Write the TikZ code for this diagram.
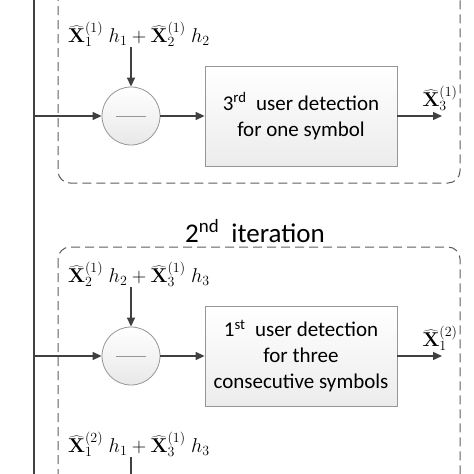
\documentclass[tikz,border=0pt]{standalone}
\usepackage{fix-cm}
\usepackage[no-math]{fontspec}
\setmainfont{Carlito}
\usetikzlibrary{positioning,arrows.meta,calc}
\definecolor{lnGrey}{RGB}{64,64,64}
\definecolor{rimGrey}{RGB}{150,150,150}
\tikzset{
  conn/.style={draw=lnGrey,line width=1.4pt,-{Triangle[length=9pt,width=8pt]}},
  busline/.style={draw=lnGrey,line width=1.5pt},
  subnode/.style={circle,draw=rimGrey,line width=0.8pt,minimum size=58pt,inner sep=0pt,
    top color=white,bottom color=gray!18},
  minusline/.style={draw=rimGrey,line width=1pt},
  detbox/.style={draw=rimGrey,line width=0.8pt,minimum width=192pt,minimum height=100pt,
    align=center,top color=white,bottom color=gray!15,font=\fontsize{21}{26}\selectfont},
  iterframe/.style={draw=lnGrey!85,line width=1pt,dash pattern=on 9pt off 5pt,rounded corners=12pt},
  lbl/.style={inner sep=0pt,font=\fontsize{20}{24}\selectfont},
}
\newcommand{\xh}[2]{\widehat{\mathbf{X}}_{#1}^{(#2)}}

\begin{document}
\begin{tikzpicture}[x=1pt,y=-1pt]
  \useasboundingbox (0,0) rectangle (474,474);
  % dashed iteration frames
  \draw[iterframe] (58,-20) rectangle (460,183);
  \draw[iterframe] (58,247) rectangle (460,500);
  \node[font=\fontsize{27}{30}\selectfont] (iter2) at (255,231) {2\textsuperscript{nd}~ iteration};
  % received signal bus
  \coordinate (bustop) at (34,0);
  \coordinate (busbot) at (34,474);
  \draw[busline] (bustop) -- (busbot);
  % first stage
  \node[subnode] (sub1) at (131,116) {};
  \draw[minusline] (sub1.center) ++(-15,0) -- ++(30,0);
  \node[detbox] (det1) at (301,116) {3\textsuperscript{rd}~ user detection\\for one symbol};
  \node[lbl] (in1) at (139,34) {$\xh{1}{1}\;h_1+\xh{2}{1}\;h_2$};
  \coordinate (tap1) at (34,116);
  \coordinate (out1) at (442,116);
  \node[lbl] (xout1) at (440,98) {$\xh{3}{1}$};
  \draw[conn] (in1.south -| sub1) -- (sub1);
  \draw[conn] (tap1) -- (sub1);
  \draw[conn] (sub1) -- (det1);
  \draw[conn] (det1) -- (out1);
  % second stage
  \node[subnode] (sub2) at (131,356) {};
  \draw[minusline] (sub2.center) ++(-15,0) -- ++(30,0);
  \node[detbox] (det2) at (301,356) {1\textsuperscript{st}~ user detection\\for three\\consecutive symbols};
  \node[lbl] (in2) at (139,274) {$\xh{2}{1}\;h_2+\xh{3}{1}\;h_3$};
  \coordinate (tap2) at (34,356);
  \coordinate (out2) at (442,356);
  \node[lbl] (xout2) at (440,338) {$\xh{1}{2}$};
  \draw[conn] (in2.south -| sub2) -- (sub2);
  \draw[conn] (tap2) -- (sub2);
  \draw[conn] (sub2) -- (det2);
  \draw[conn] (det2) -- (out2);
  % next stage, cut off
  \node[lbl] (in3) at (139,444) {$\xh{1}{2}\;h_1+\xh{3}{1}\;h_3$};
  \coordinate (sub3top) at (131,495);
  \draw[conn] (in3.south -| sub3top) -- (sub3top);
\end{tikzpicture}
\end{document}
